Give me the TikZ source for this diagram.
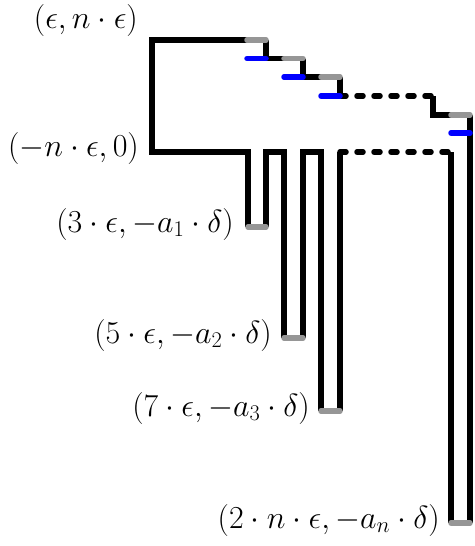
\RequirePackage{fix-cm}
\documentclass[tikz,border=0pt]{standalone}
\definecolor{capgray}{RGB}{150,150,150}
\definecolor{capblue}{RGB}{0,0,255}
\tikzset{
  wall/.style={line width=5.5pt, black, line join=miter},
  dashwall/.style={line width=5.5pt, black, line cap=round, dash pattern=on 6pt off 11pt},
  graycap/.style={line width=5.5pt, capgray, line cap=round},
  bluecap/.style={line width=5.5pt, capblue, line cap=round},
  lbl/.style={anchor=east, inner sep=0pt, font=\fontsize{32}{38}\selectfont}
}
\begin{document}
\begin{tikzpicture}[x=1pt,y=-1pt]
\useasboundingbox (0,0) rectangle (474,546);
% corners
\coordinate (tl) at (152,40);
\coordinate (bl) at (152,152);
% staircase
\coordinate (s1a) at (247,40);   \coordinate (s1b) at (266,40);
\coordinate (s1c) at (266,58.5); \coordinate (s1d) at (247,58.5);
\coordinate (s2a) at (284,58.5); \coordinate (s2b) at (303,58.5);
\coordinate (s2c) at (303,77);   \coordinate (s2d) at (284,77);
\coordinate (s3a) at (321,77);   \coordinate (s3b) at (340,77);
\coordinate (s3c) at (340,96);   \coordinate (s3d) at (321,96);
\coordinate (sd) at (433,96);    \coordinate (se) at (433,115);
\coordinate (sna) at (451,115);  \coordinate (snb) at (470,115);
\coordinate (snc) at (470,133);  \coordinate (snd) at (451,133);
% fingers
\coordinate (f1l) at (248,152);  \coordinate (f1lb) at (248,227);
\coordinate (f1rb) at (266,227); \coordinate (f1r) at (266,152);
\coordinate (f2l) at (284,152);  \coordinate (f2lb) at (284,338);
\coordinate (f2rb) at (303,338); \coordinate (f2r) at (303,152);
\coordinate (f3l) at (321,152);  \coordinate (f3lb) at (321,411);
\coordinate (f3rb) at (340,411); \coordinate (f3r) at (340,152);
\coordinate (fnl) at (451,152);  \coordinate (fnlb) at (451,523);
\coordinate (fnrb) at (470,523);

% black walls
\draw[wall] (bl) -- (tl) -- (s1a);
\draw[wall] (s1b) -- (s1c) -- (s2a);
\draw[wall] (s2b) -- (s2c) -- (s3a);
\draw[wall] (s3b) -- (s3c);
\draw[dashwall] (s3c) -- (sd);
\draw[wall] (sd) -- (se) -- (sna);
\draw[wall] (snb) -- (fnrb);
\draw[wall] (tl) -- (bl) -- (f1l) -- (f1lb);
\draw[wall] (f1rb) -- (f1r) -- (f2l) -- (f2lb);
\draw[wall] (f2rb) -- (f2r) -- (f3l) -- (f3lb);
\draw[wall] (f3rb) -- (f3r);
\draw[dashwall] (f3r) -- (fnl);
\draw[wall] (fnl) -- (fnlb);

% gray caps
\draw[graycap] (s1a) -- (s1b);
\draw[graycap] (s2a) -- (s2b);
\draw[graycap] (s3a) -- (s3b);
\draw[graycap] (sna) -- (snb);
\draw[graycap] (f1lb) -- (f1rb);
\draw[graycap] (f2lb) -- (f2rb);
\draw[graycap] (f3lb) -- (f3rb);
\draw[graycap] (fnlb) -- (fnrb);

% blue caps
\draw[bluecap] (s1d) -- (s1c);
\draw[bluecap] (s2d) -- (s2c);
\draw[bluecap] (s3d) -- (s3c);
\draw[bluecap] (snd) -- (snc);

% labels
\node[lbl] (ltl) at ([shift={(-14,-19.5)}]tl) {$(\epsilon, n\cdot\epsilon)$};
\node[lbl] (lbl0) at ([shift={(-13,-3.5)}]bl) {$(-n\cdot\epsilon, 0)$};
\node[lbl] (l1) at ([shift={(-14,-3)}]f1lb) {$(3\cdot\epsilon, -a_1\cdot\delta)$};
\node[lbl] (l2) at ([shift={(-12,-3)}]f2lb) {$(5\cdot\epsilon, -a_2\cdot\delta)$};
\node[lbl] (l3) at ([shift={(-11,-3)}]f3lb) {$(7\cdot\epsilon, -a_3\cdot\delta)$};
\node[lbl] (ln) at ([shift={(-11,-3)}]fnlb) {$(2\cdot n\cdot\epsilon, -a_n\cdot\delta)$};
\end{tikzpicture}
\end{document}
